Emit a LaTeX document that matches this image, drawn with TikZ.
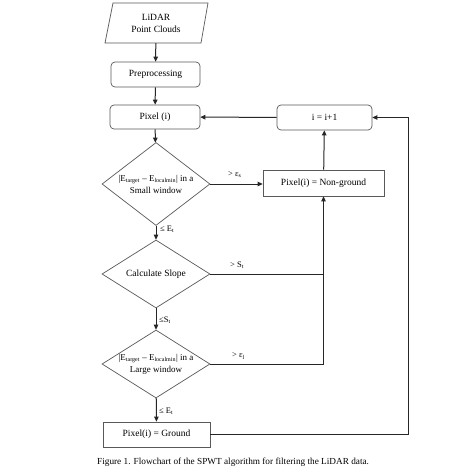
\documentclass[tikz,border=0pt]{standalone}
\usepackage{fontspec}
\setmainfont{Liberation Serif}
\usetikzlibrary{arrows.meta,shapes.geometric}
\begin{document}
\begin{tikzpicture}[x=1pt,y=-1pt,
  box/.style={draw=black!65, line width=0.7pt, minimum height=25pt, inner sep=0pt, font=\fontsize{9.5}{11.5}\selectfont, align=center},
  rbox/.style={box, rounded corners=4pt},
  dec/.style={diamond, draw=black!65, line width=0.7pt, inner sep=0pt, minimum width=108pt},
  conn/.style={draw=black!85, line width=1pt},
  arr/.style={conn, -{Triangle[length=5pt,width=4.5pt]}},
  lab/.style={font=\fontsize{8.5}{10}\selectfont, anchor=west, inner sep=0pt},
  dtext/.style={font=\fontsize{9.5}{12}\selectfont, align=center},
  ftext/.style={font=\fontsize{9}{12}\selectfont, align=center}]
\useasboundingbox (0,0) rectangle (474,474);
\fill[white] (0,0) rectangle (474,474);
% input
\draw[black!65, line width=0.7pt] (113,3) -- (208,3) -- (201,43) -- (105,43) -- cycle;
\node[dtext, minimum width=90pt, minimum height=40pt, inner sep=0pt] (lidar) at (156,23) {LiDAR\\Point Clouds};
% boxes
\node[rbox, minimum width=89pt] (pre) at (155.5,74.5) {Preprocessing};
\node[rbox, minimum width=90pt, minimum height=24pt] (pix) at (155,117) {Pixel (i)};
\node[rbox, minimum width=95pt] (inc) at (324.5,117.5) {i = i+1};
\node[dec, minimum height=83pt] (d1) at (156,184) {};
\node[ftext] (t1) at (d1) {|E\textsubscript{target} -- E\textsubscript{localmin}| in a\\Small window};
\node[box, minimum width=121pt, minimum height=26pt] (ng) at (323.5,183) {Pixel(i) = Non-ground};
\node[dec, minimum height=68pt] (d2) at (156,274) {};
\node[dtext] (t2) at (d2) {Calculate Slope};
\node[dec, minimum height=68pt] (d3) at (156,364) {};
\node[ftext] (t3) at (d3) {|E\textsubscript{target} -- E\textsubscript{localmin}| in a\\Large window};
\node[box, minimum width=107pt] (gr) at (156.5,434.5) {Pixel(i) = Ground};
\coordinate (rt) at (408,0);
% connectors
\draw[arr] (lidar) -- (pre);
\draw[arr] (pre) -- (pix);
\draw[arr] (pix) -- (d1);
\draw[arr] (d1) -- (d2);
\draw[arr] (d2) -- (d3);
\draw[arr] (d3) -- (gr);
\draw[arr] (d1.east) -- (d1.east -| ng.west);
\draw[arr] (ng) -- (inc);
\draw[arr] (inc) -- (pix);
\draw[arr] (d2.east) -| (ng.south);
\draw[conn] (d3.east) -| (d2.east -| ng.south);
\draw[arr] (gr.east) -| (rt |- inc.east) -- (inc.east);
% labels
\node[lab] (l1) at (228,175) {> ε\textsubscript{s}};
\node[lab] (l2) at (160,229) {≤ E\textsubscript{t}};
\node[lab] (l3) at (230,265) {> S\textsubscript{t}};
\node[lab] (l4) at (159,320) {≤S\textsubscript{t}};
\node[lab] (l5) at (232,356) {> ε\textsubscript{l}};
\node[lab] (l6) at (159,411) {≤ E\textsubscript{t}};
% caption
\node[anchor=west, font=\fontsize{9.25}{11}\selectfont, inner sep=0pt] (cap) at (97,462) {Figure 1. Flowchart of the SPWT algorithm for filtering the LiDAR data.};
\end{tikzpicture}
\end{document}
